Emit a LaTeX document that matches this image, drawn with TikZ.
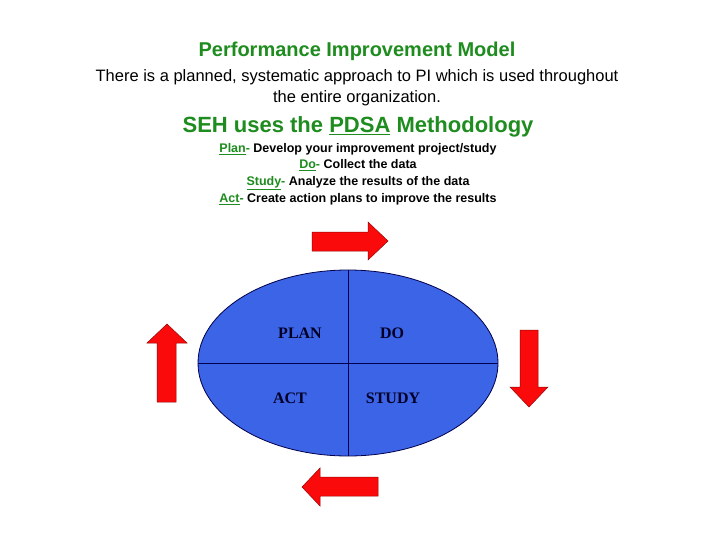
\documentclass[tikz,border=0pt]{standalone}
\usepackage{fontspec}
\setmainfont{Liberation Sans}
\newfontfamily\timesf{Liberation Serif}
\definecolor{tgreen}{RGB}{30,140,30}
\definecolor{eblue}{RGB}{60,100,230}
\definecolor{ered}{RGB}{250,10,10}
\begin{document}
\begin{tikzpicture}[x=1pt,y=-1pt,
  arr/.style={fill=ered,draw=ered!60!black,line width=0.5pt},
  lab/.style={font=\timesf\bfseries\fontsize{16}{18}\selectfont,text=black!85!blue}]
\fill[white] (0,0) rectangle (720,540);
\useasboundingbox (0,0) rectangle (720,540);
\node[font=\bfseries\fontsize{20}{24}\selectfont,text=tgreen] (title) at (357,51) {Performance Improvement Model};
\node[font=\fontsize{16.5}{21}\selectfont,align=center] (sub) at (357,88) {There is a planned, systematic approach to PI which is used throughout\\the entire organization.};
\node[font=\bfseries\fontsize{22}{26}\selectfont,text=tgreen] (seh) at (358,127) {SEH uses the \underline{PDSA} Methodology};
\node[font=\bfseries\fontsize{12.5}{16.7}\selectfont,align=center] (list) at (358,174) {\textcolor{tgreen}{\underline{Plan}-} Develop your improvement project/study\\\textcolor{tgreen}{\underline{Do}-} Collect the data\\\textcolor{tgreen}{\underline{Study}-} Analyze the results of the data\\\textcolor{tgreen}{\underline{Act}-} Create action plans to improve the results};
\draw[fill=eblue,draw=black!70!blue,line width=0.8pt] (348,363) ellipse [x radius=150,y radius=93];
\draw[black!70!blue,line width=0.8pt] (348,270) -- (348,456) (198,363) -- (498,363);
\node[lab] (plan) at (300,333) {PLAN};
\node[lab] (do) at (392,333) {DO};
\node[lab] (act) at (290,398) {ACT};
\node[lab] (study) at (393,398) {STUDY};
\draw[arr] (312,232) -- (368,232) -- (368,222) -- (388,241) -- (368,260) -- (368,251) -- (312,251) -- cycle;
\draw[arr] (378,477) -- (320,477) -- (320,468) -- (302,487) -- (320,506) -- (320,496) -- (378,496) -- cycle;
\draw[arr] (157,402) -- (157,343) -- (147,343) -- (167,324) -- (187,343) -- (176,343) -- (176,402) -- cycle;
\draw[arr] (520,330) -- (538,330) -- (538,387) -- (548,387) -- (529,407) -- (510,387) -- (520,387) -- cycle;
\end{tikzpicture}
\end{document}
